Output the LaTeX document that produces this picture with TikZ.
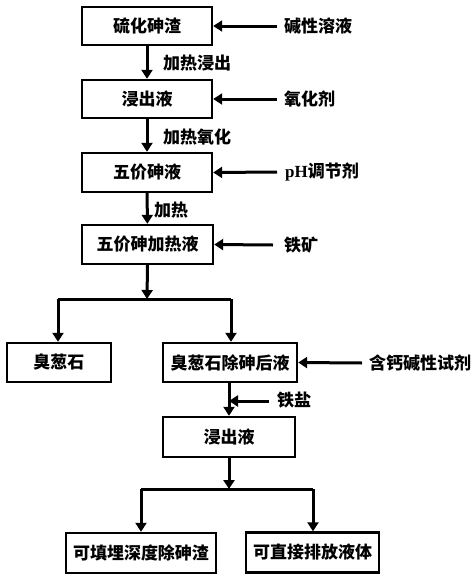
\documentclass[tikz,border=0pt]{standalone}
\usepackage{fontspec}
\newfontfamily\cjk{Noto Sans CJK SC}
\newfontfamily\tnr{Liberation Serif}
\usetikzlibrary{arrows.meta}
\begin{document}
\begin{tikzpicture}[x=1pt,y=-1pt,
  box/.style={draw,line width=2.4pt,minimum height=38pt,inner sep=0pt,font=\cjk\bfseries\fontsize{17}{20}\selectfont},
  lab/.style={inner sep=0pt,anchor=west,font=\cjk\bfseries\fontsize{17}{20}\selectfont},
  arr/.style={line width=3pt,-{Triangle[length=9pt,width=11pt]}},
  ln/.style={line width=3pt}]
\useasboundingbox (0,0) rectangle (474,579);
% main column
\node[box,minimum width=130pt] (b1) at (147,26) {硫化砷渣};
\node[box,minimum width=130pt] (b2) at (147,99) {浸出液};
\node[box,minimum width=130pt,minimum height=39pt] (b3) at (147,172.5) {五价砷液};
\node[box,minimum width=131pt,minimum height=39pt] (b4) at (147.5,244.5) {五价砷加热液};
\node[box,minimum width=104pt,minimum height=39pt] (b5) at (59,362.5) {臭葱石};
\node[box,minimum width=134pt,minimum height=39pt] (b6) at (230,362.5) {臭葱石除砷后液};
\node[box,minimum width=132pt,minimum height=40pt] (b7) at (229,437) {浸出液};
\node[box,minimum width=150pt,minimum height=40pt] (b8) at (141,553) {可填埋深度除砷渣};
\node[box,minimum width=133pt,minimum height=40pt] (b9) at (312.5,552.5) {可直接排放液体};
% side labels
\node[lab] (l1) at (284,26) {碱性溶液};
\node[lab] (l2) at (284,99) {氧化剂};
\node[lab] (l3) at (285,172) {{\tnr\bfseries pH}调节剂};
\node[lab] (l4) at (284,245) {铁矿};
\node[lab] (l5) at (369,363) {含钙碱性试剂};
\node[lab] (l6) at (277,400) {铁盐};
% step labels
\node[lab] (s1) at (163,63) {加热浸出};
\node[lab] (s2) at (163,137) {加热氧化};
\node[lab] (s3) at (154,210) {加热};
% coordinates
\coordinate (c1) at (277,26);
\coordinate (c2) at (277,99);
\coordinate (c3) at (277,172);
\coordinate (c4) at (273,245);
\coordinate (c5) at (362,363);
\coordinate (c6) at (269,401);
\coordinate (j6) at (229,401);
\coordinate (sp1) at (147,299);
\coordinate (sp1l) at (58,299);
\coordinate (sp1r) at (231,299);
\coordinate (sp2) at (229,489);
\coordinate (sp2l) at (141,489);
\coordinate (sp2r) at (313,489);
% arrows
\draw[arr] (b1) -- (b2);
\draw[arr] (b2) -- (b3);
\draw[arr] (b3) -- (b4);
\draw[arr] (c1) -- (b1.east);
\draw[arr] (c2) -- (b2.east);
\draw[arr] (c3) -- (b3.east);
\draw[arr] (c4) -- (b4.east);
\draw[arr] (b4.south) -- (sp1);
\draw[ln] (sp1l) -- (sp1r);
\draw[arr] (sp1l) -- (sp1l |- b5.north);
\draw[arr] (sp1r) -- (sp1r |- b6.north);
\draw[arr] (c5) -- (b6.east);
\draw[arr] (b6.south -| j6) -- (b7.north -| j6);
\draw[arr] (c6) -- (j6);
\draw[arr] (b7.south -| sp2) -- (sp2);
\draw[ln] (sp2l) -- (sp2r);
\draw[arr] (sp2l) -- (sp2l |- b8.north);
\draw[arr] (sp2r) -- (sp2r |- b9.north);
\end{tikzpicture}
\end{document}
